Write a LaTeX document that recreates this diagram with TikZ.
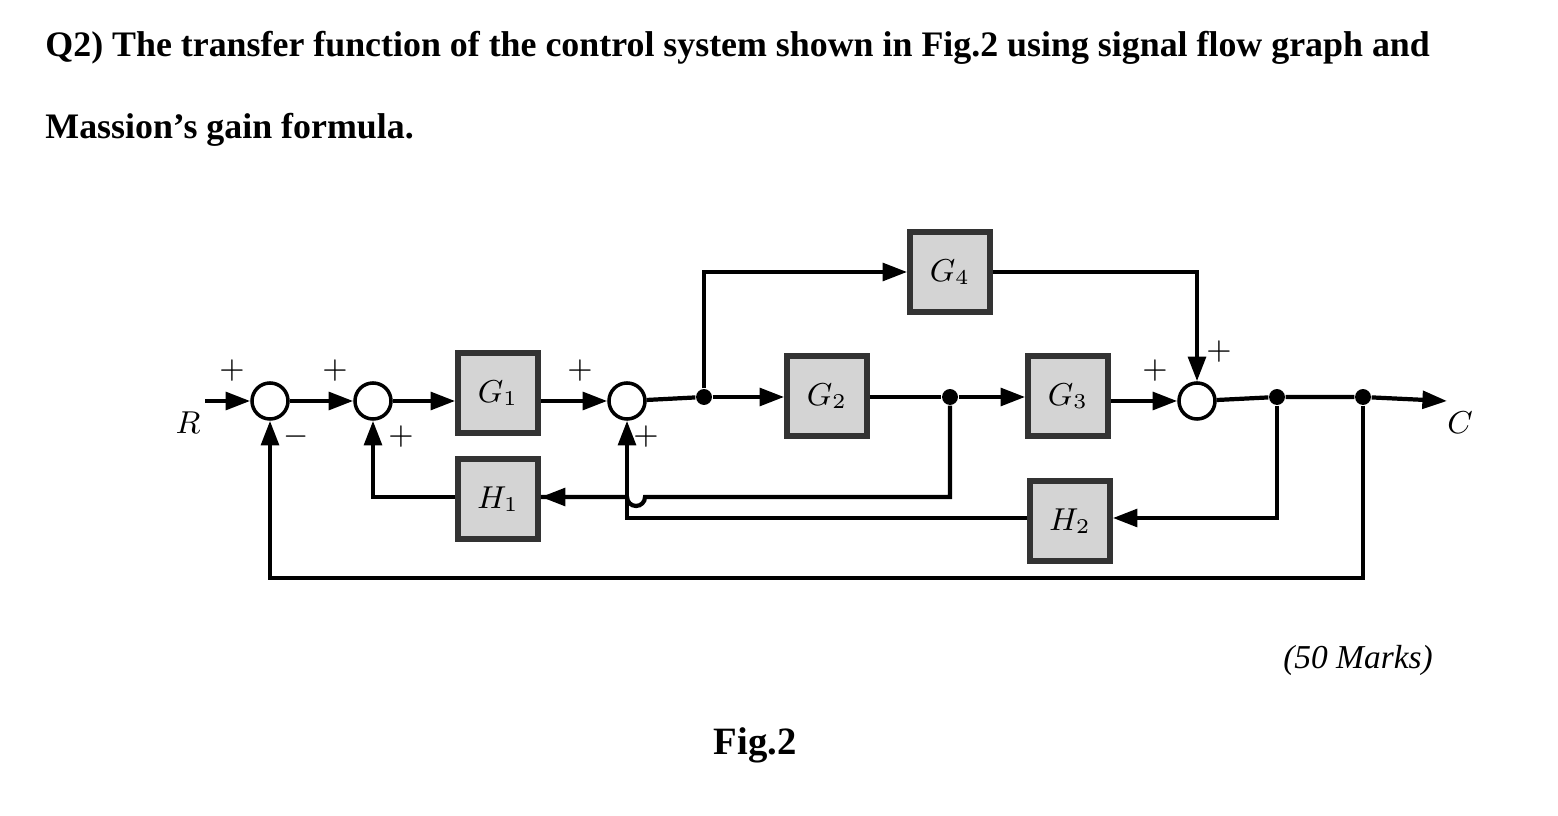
\documentclass[tikz,border=0pt]{standalone}
\usepackage{fontspec}
\setmainfont{Liberation Serif}
\usetikzlibrary{arrows.meta}
\begin{document}
\begin{tikzpicture}[x=0.01cm,y=-0.01cm,
  blk/.style={draw=black!80,line width=1.6pt,fill=black!17,minimum width=0.8cm,minimum height=0.8cm,inner sep=0pt,font=\bfseries\itshape\small},
  sum/.style={draw,circle,line width=1pt,minimum size=0.36cm,inner sep=0pt},
  sig/.style={line width=1.2pt,-{Triangle[length=7pt,width=5pt]}},
  ln/.style={line width=1.2pt},
  dot/.style={circle,fill,inner sep=1.6pt},
  sg/.style={font=\small}]
\useasboundingbox (0,0) rectangle (1558,816);
% text
\node[anchor=west,font=\bfseries\fontsize{10.2}{12}\selectfont] (t1) at (33,48) {Q2) The transfer function of the control system shown in Fig.2 using signal flow graph and};
\node[anchor=west,font=\bfseries\fontsize{10.2}{12}\selectfont] (t2) at (33,130) {Massion’s gain formula.};
\node[font=\itshape\fontsize{9.5}{11}\selectfont] (mk) at (1358,660) {(50 Marks)};
\node[font=\bfseries\fontsize{11}{13}\selectfont] (fig) at (755,745) {Fig.2};
% blocks
\node[blk] (g1) at (498,393) {$G_1$};
\node[blk] (g2) at (827,396) {$G_2$};
\node[blk] (g3) at (1068,396) {$G_3$};
\node[blk] (g4) at (950,272) {$G_4$};
\node[blk] (h1) at (498,499) {$H_1$};
\node[blk] (h2) at (1070,521) {$H_2$};
\node[sum] (s1) at (270,401) {};
\node[sum] (s2) at (373,401) {};
\node[sum] (s3) at (627,401) {};
\node[sum] (s4) at (1197,401) {};
\node[font=\bfseries\itshape\small] (r) at (188,423) {$R$};
\node[font=\bfseries\itshape\small] (c) at (1460,423) {$C$};
\coordinate (in) at (205,401);
\coordinate (out) at (1447,401);
\node[dot] (b1) at (704,397) {};
\node[dot] (b2) at (950,397) {};
\node[dot] (b3) at (1277,397) {};
\node[dot] (b4) at (1363,397) {};
% forward path
\draw[sig] (in) -- (s1);
\draw[sig] (s1) -- (s2);
\draw[sig] (s2) -- (g1.west |- s2);
\draw[sig] (g1.east |- s3) -- (s3);
\draw[ln] (s3) -- (b1);
\draw[sig] (b1) -- (g2.west |- b1);
\draw[ln] (g2.east |- b2) -- (b2);
\draw[sig] (b2) -- (g3.west |- b2);
\draw[sig] (g3.east |- s4) -- (s4);
\draw[ln] (s4) -- (b3) -- (b4);
\draw[sig] (b4) -- (out);
% G4 path
\draw[sig] (b1) |- (g4.west);
\draw[sig] (g4.east) -| (s4);
% H1 loop
\draw[ln] (b2) |- (645,497) arc (0:180:9) -- (h1.east |- 0,497);
\draw[sig] (627,497) -- (h1.east |- 0,497);
\draw[sig] (h1.west |- 0,497) -| (s2);
% H2 loop
\draw[sig] (b3) |- (h2.east |- 0,518);
\draw[sig] (h2.west |- 0,518) -| (s3);
% outer loop
\draw[sig] (b4) |- (270,578) -- (s1);
% signs
\node[sg] (p1) at (232,371) {$+$};
\node[sg] (m1) at (296,437) {$-$};
\node[sg] (p2) at (335,371) {$+$};
\node[sg] (p3) at (401,437) {$+$};
\node[sg] (p4) at (580,371) {$+$};
\node[sg] (p5) at (646,437) {$+$};
\node[sg] (p6) at (1155,371) {$+$};
\node[sg] (p7) at (1219,352) {$+$};
\end{tikzpicture}
\end{document}
